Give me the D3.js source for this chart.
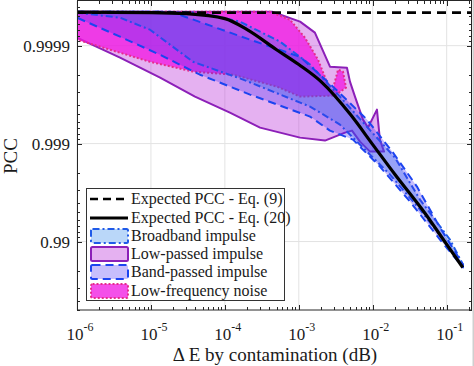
<!DOCTYPE html>
<html><head><meta charset="utf-8">
<script src="https://cdn.jsdelivr.net/npm/d3@7"></script>
<style>html,body{margin:0;padding:0;background:#fff;} svg{display:block;} text{font-family:"Liberation Serif","Times New Roman",serif;fill:#1a1a1a;}</style>
</head><body><svg id="c" width="474" height="366"></svg>
<script>
// ---- data (ΔE in dB, PCC) ----
const xLimits = [1e-6, 0.22];
const yLimits = [0.95, 0.999965];
const xTickValues = [1e-6, 1e-5, 1e-4, 1e-3, 1e-2, 1e-1];
const xTickExponents = ["-6", "-5", "-4", "-3", "-2", "-1"];
const yTickValues = [0.99, 0.999, 0.9999];
const yTickLabels = ["0.99", "0.999", "0.9999"];

const eq9 = [[1e-6, 0.999954], [0.22, 0.999954]];
const eq20 = [[1e-6,0.9999545],[1e-5,0.999954],[3e-5,0.9999528],[1e-4,0.999947],[2e-4,0.9999313],
  [5e-4,0.99989],[1e-3,0.999844],[2e-3,0.999767],[5e-3,0.999494],[1e-2,0.998976],[2e-2,0.99793],
  [5e-2,0.99494],[0.1,0.9893],[0.165,0.9816]];

const broadbandUpper = [[1e-6,0.999955],[9.7e-6,0.999955],[4.61e-5,0.999954],[1.6e-4,0.9999431],
  [5.57e-4,0.999909],[1.42e-3,0.999844],[3.6e-3,0.999669],[7.85e-3,0.99936],[2.0e-2,0.99861],
  [4.35e-2,0.99627],[0.1108,0.99045],[0.1662,0.98279]];
const broadbandLower = [[1e-6,0.999954],[3.82e-6,0.9999482],[9.7e-6,0.9999313],[3.7e-5,0.999854],
  [1.76e-4,0.999778],[1.42e-3,0.999581],[3.6e-3,0.99936],[7.85e-3,0.998849],[1.71e-2,0.99793],
  [4.35e-2,0.995284],[9.48e-2,0.99],[0.1662,0.9816]];

const lowPassedUpper = [[1e-6,0.999955],[4.34e-4,0.999955],[1.04e-3,0.9999431],[1.65e-3,0.9999263],
  [2.64e-3,0.999836],[4.48e-3,0.999832],[4.92e-3,0.999767],[5.75e-3,0.999669],[7.38e-3,0.999431],
  [8.62e-3,0.999313],[1.14e-2,0.99955],[1.25e-2,0.99909],[1.42e-2,0.998793]];
const lowPassedLower = [[1e-6,0.9999171],[3.82e-6,0.9998675],[1.33e-5,0.999788],[3.94e-5,0.999669],
  [1.17e-4,0.999517],[2.99e-4,0.999313],[1.04e-3,0.999131],[2.26e-3,0.999068],[4.21e-3,0.999228],
  [5.24e-3,0.999263],[6.72e-3,0.999045],[9.18e-3,0.998793],[1.42e-2,0.998793]];

const bandPassedUpper = [[1e-6,0.999955],[1.81e-5,0.999955],[2.89e-5,0.9999494],[2.19e-4,0.9999131],
  [1.04e-3,0.99987],[2.9e-3,0.999738],[8.36e-3,0.999431],[1.88e-2,0.998765],[3.96e-2,0.997254],
  [8.12e-2,0.99281],[0.1662,0.98279]];
const bandPassedLower = [[1e-6,0.9999482],[3.82e-6,0.999919],[1.33e-5,0.999876],[4.61e-5,0.999802],
  [2.19e-4,0.999684],[1.42e-3,0.99947],[2.64e-3,0.999263],[5.4e-3,0.99909],[1.25e-2,0.998283],
  [3.19e-2,0.996094],[8.12e-2,0.99045],[0.1662,0.9816]];

const lowFreqUpper = [[1e-6,0.999955],[4.07e-4,0.999955],[7.6e-4,0.9999457],[1.21e-3,0.9999171],
  [1.82e-3,0.999861],[2.33e-3,0.999778],[2.81e-3,0.999698],[3.39e-3,0.999824],[3.96e-3,0.999816],
  [4.35e-3,0.999732]];
const lowFreqLower = [[1e-6,0.9999131],[2.8e-6,0.99989],[9.7e-6,0.999854],[3.7e-5,0.999816],
  [1.29e-4,0.999802],[5.07e-4,0.999738],[1.04e-3,0.999669],[3.08e-3,0.999676],[4.35e-3,0.999732]];

const legendLabels = ["Expected PCC - Eq. (9)", "Expected PCC - Eq. (20)", "Broadband impulse",
  "Low-passed impulse", "Band-passed impulse", "Low-frequency noise"];

// ---- styles ----
const regionStyles = {
  broadband: {fill:"rgb(40,130,235)", op:0.32, stroke:"#1f5ae8", dash:"7,3,2,3"},
  lowPassed: {fill:"rgb(190,60,220)", op:0.4, stroke:"#8c1fb8", dash:null},
  bandPassed:{fill:"rgb(70,40,245)", op:0.3, stroke:"#1c44f0", dash:"8,5"},
  lowFreq:   {fill:"rgb(240,20,225)", op:0.75, stroke:"#e62d8c", dash:"2,2"}
};

const svg = d3.select("#c");
const M = {l:77, r:472, t:1, b:310};
const x = d3.scaleLog().domain(xLimits).range([M.l, M.r]);
const yL = d3.scaleLog().domain([1 - yLimits[1], 1 - yLimits[0]]).range([M.t, M.b]);
const y = p => yL(1 - p);

svg.append("defs").append("clipPath").attr("id","clip").append("rect")
  .attr("x",M.l).attr("y",M.t).attr("width",M.r-M.l).attr("height",M.b-M.t);

// grid
const g = svg.append("g");
xTickValues.forEach(v => g.append("line").attr("x1",x(v)).attr("x2",x(v)).attr("y1",M.t).attr("y2",M.b)
  .attr("stroke","#e3e3e3").attr("stroke-width",1));
yTickValues.forEach(v => g.append("line").attr("x1",M.l).attr("x2",M.r).attr("y1",y(v)).attr("y2",y(v))
  .attr("stroke","#e3e3e3").attr("stroke-width",1));

const plot = svg.append("g").attr("clip-path","url(#clip)");
const line = d3.line().x(d => x(d[0])).y(d => y(d[1]));

function region(upper, lower, st) {
  const pts = upper.concat(lower.slice().reverse());
  plot.append("path").attr("d", line(pts) + "Z")
    .attr("fill", st.fill).attr("fill-opacity", st.op)
    .attr("stroke", st.stroke).attr("stroke-width", 2)
    .attr("stroke-dasharray", st.dash).attr("stroke-linejoin","round");
}
region(lowPassedUpper, lowPassedLower, regionStyles.lowPassed);
region(lowFreqUpper, lowFreqLower, regionStyles.lowFreq);
region(broadbandUpper, broadbandLower, regionStyles.broadband);
region(bandPassedUpper, bandPassedLower, regionStyles.bandPassed);

plot.append("path").attr("d", line(eq9)).attr("fill","none").attr("stroke","#000")
  .attr("stroke-width",2.6).attr("stroke-dasharray","9,6");
plot.append("path").attr("d", d3.line().x(d=>x(d[0])).y(d=>y(d[1])).curve(d3.curveMonotoneX)(eq20))
  .attr("fill","none").attr("stroke","#000").attr("stroke-width",3.2);

// axes box and ticks
const ax = svg.append("g").attr("stroke","#262626").attr("stroke-width",1);
ax.append("rect").attr("x",M.l+0.5).attr("y",M.t-0.5).attr("width",M.r-M.l-1).attr("height",M.b-M.t+0.5)
  .attr("fill","none");
x.ticks().forEach(t => {
  const major = Math.abs(Math.log10(t) - Math.round(Math.log10(t))) < 1e-9;
  const L = major ? 5 : 3, px = Math.round(x(t)) + 0.5;
  ax.append("line").attr("x1",px).attr("x2",px).attr("y1",M.b).attr("y2",M.b-L);
  ax.append("line").attr("x1",px).attr("x2",px).attr("y1",M.t).attr("y2",M.t+L);
});
yL.ticks().forEach(t => {
  const major = Math.abs(Math.log10(t) - Math.round(Math.log10(t))) < 1e-9;
  const L = major ? 5 : 3, py = Math.round(yL(t)) + 0.5;
  ax.append("line").attr("x1",M.l).attr("x2",M.l+L).attr("y1",py).attr("y2",py);
  ax.append("line").attr("x1",M.r).attr("x2",M.r-L).attr("y1",py).attr("y2",py);
});
svg.append("rect").attr("x",472.5).attr("y",0).attr("width",1.5).attr("height",366).attr("fill","#cfcfcf");

// tick labels
xTickValues.forEach((v,i) => {
  const t = svg.append("text").attr("x", x(v)+3).attr("y", 340).attr("text-anchor","middle")
    .attr("font-size",17);
  t.append("tspan").text("10");
  t.append("tspan").attr("dy",-9).attr("font-size",12).text(xTickExponents[i]);
});
yTickValues.forEach((v,i) => {
  svg.append("text").attr("x",70).attr("y",y(v)+6).attr("text-anchor","end").attr("font-size",17)
    .text(yTickLabels[i]);
});

// axis titles
svg.append("text").attr("x",275).attr("y",361).attr("text-anchor","middle").attr("font-size",19)
  .text("Δ E by contamination (dB)");
svg.append("text").attr("transform","translate(17,156) rotate(-90)").attr("text-anchor","middle")
  .attr("font-size",19).text("PCC");

// legend
const lg = svg.append("g");
lg.append("rect").attr("x",86.5).attr("y",188.5).attr("width",198).attr("height",112)
  .attr("fill","#fff").attr("stroke","#333").attr("stroke-width",1);
const rows = [199, 218, 236, 254, 272, 291];
lg.append("line").attr("x1",90).attr("x2",128).attr("y1",rows[0]).attr("y2",rows[0])
  .attr("stroke","#000").attr("stroke-width",2.6).attr("stroke-dasharray","8,5");
lg.append("line").attr("x1",90).attr("x2",128).attr("y1",rows[1]).attr("y2",rows[1])
  .attr("stroke","#000").attr("stroke-width",3);
[regionStyles.broadband, regionStyles.lowPassed, regionStyles.bandPassed, regionStyles.lowFreq].forEach((st,i) => {
  lg.append("rect").attr("x",91).attr("y",rows[i+2]-7).attr("width",37).attr("height",14)
    .attr("rx",1.5)
    .attr("fill",st.fill).attr("fill-opacity",st.op).attr("stroke",st.stroke).attr("stroke-width",2)
    .attr("stroke-dasharray",st.dash);
});
legendLabels.forEach((s,i) => {
  lg.append("text").attr("x",131).attr("y",rows[i]+5).attr("font-size",16).text(s);
});
</script></body></html>
